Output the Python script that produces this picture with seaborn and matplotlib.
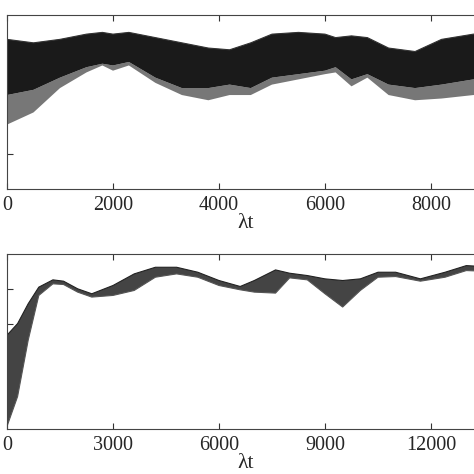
import matplotlib
matplotlib.use("Agg")
import matplotlib.pyplot as plt
import seaborn as sns
import numpy as np

sns.set_style("white")
plt.rcParams['font.family'] = ['Liberation Serif', 'DejaVu Serif']

# top panel envelopes (x in lambda*t, values in axis units 0..1)
top_x = [0, 500, 1000, 1500, 1800, 2000, 2300, 2800, 3300, 3800, 4200, 4600, 5000,
         5500, 6000, 6200, 6500, 6800, 7200, 7700, 8200, 8800, 9000]
top_upper = [0.86, 0.84, 0.86, 0.89, 0.90, 0.89, 0.90, 0.87, 0.84, 0.81, 0.80, 0.84, 0.89,
             0.90, 0.89, 0.87, 0.88, 0.87, 0.81, 0.79, 0.86, 0.89, 0.89]
top_lower = [0.54, 0.57, 0.64, 0.70, 0.72, 0.71, 0.73, 0.64, 0.58, 0.58, 0.60, 0.58, 0.64,
             0.66, 0.68, 0.70, 0.63, 0.66, 0.60, 0.58, 0.60, 0.63, 0.63]
top_spike = [0.37, 0.44, 0.58, 0.67, 0.71, 0.68, 0.71, 0.61, 0.54, 0.51, 0.54, 0.54, 0.60,
             0.63, 0.66, 0.67, 0.59, 0.64, 0.54, 0.51, 0.52, 0.54, 0.54]

# bottom panel envelopes
bot_x = [0, 300, 600, 900, 1300, 1600, 2000, 2400, 3000, 3600, 4200, 4800, 5400, 6000,
         6600, 7000, 7600, 8000, 8500, 9000, 9500, 10000, 10500, 11000, 11700, 12400, 13000, 13500]
bot_upper_z = [285, 250, 190, 140, 118, 122, 145, 160, 135, 100, 80, 80, 95, 120,
               138, 120, 88, 98, 105, 115, 120, 115, 95, 95, 115, 95, 75, 78]
bot_lower_z = [560, 470, 300, 165, 130, 132, 155, 170, 165, 150, 110, 100, 110, 135,
               148, 155, 158, 112, 118, 160, 200, 150, 110, 108, 122, 110, 90, 92]
bot_upper = [(568 - z) / 528 for z in bot_upper_z]
bot_lower = [(568 - z) / 528 for z in bot_lower_z]

fig = plt.figure(figsize=(4.74, 4.74), dpi=100)
W, H = 474, 474
ax1 = fig.add_axes([7 / W, 1 - 189 / H, 477 / W, 174 / H])
ax2 = fig.add_axes([7 / W, 1 - 429 / H, 477 / W, 175 / H])

ax1.fill_between(top_x, top_spike, top_lower, color="#777777", lw=0)
ax1.fill_between(top_x, top_lower, top_upper, color="#1a1a1a", lw=0)
sns.lineplot(x=top_x, y=top_upper, ax=ax1, color="#333333", lw=0.8)
ax1.set_xlim(0, 9000)
ax1.set_xticks([0, 2000, 4000, 6000, 8000])

ax2.fill_between(bot_x, bot_lower, bot_upper, color="#444444", lw=0)
sns.lineplot(x=bot_x, y=bot_upper, ax=ax2, color="#222222", lw=0.8)
sns.lineplot(x=bot_x, y=bot_lower, ax=ax2, color="#555555", lw=0.8)
ax2.set_xlim(0, 13500)
ax2.set_xticks([0, 3000, 6000, 9000, 12000])

for ax in (ax1, ax2):
    ax.set_ylim(0, 1)
    ax.set_yticks([0.2, 0.4, 0.6, 0.8])
    ax.set_yticklabels([])
    ax.tick_params(direction="in", length=4, top=True, right=True, bottom=True, left=True,
                   labelsize=14.5, pad=5, color="#333333")
    ax.set_xlabel("λt", fontsize=15.5, labelpad=-1)
    for s in ax.spines.values():
        s.set_color("#444444")
        s.set_linewidth(0.8)

fig.savefig("out.png", dpi=100)
